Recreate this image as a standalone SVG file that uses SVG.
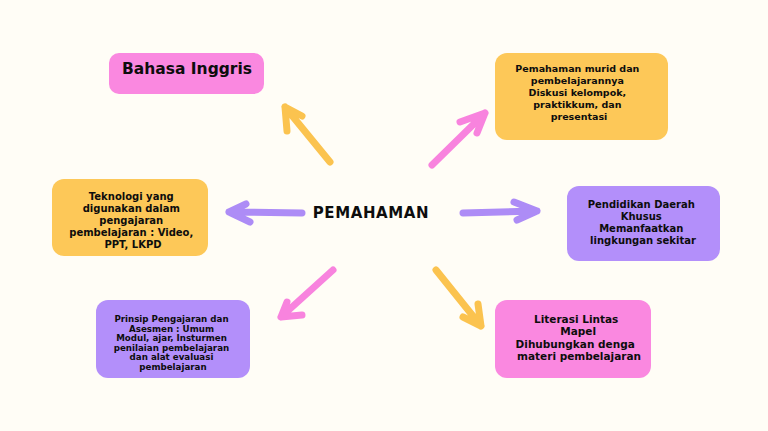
<svg xmlns="http://www.w3.org/2000/svg" width="768" height="431" viewBox="0 0 768 431">
<style>
.pink{fill:#FA88E0}
.orange{fill:#FDC858}
.purple{fill:#B38FFA}
.t{font-family:"DejaVu Sans","Liberation Sans",sans-serif;font-weight:bold;fill:#0d0d0d;text-anchor:middle}
.a{fill:none;stroke-width:7;stroke-linecap:round;stroke-linejoin:round}
.ay{stroke:#FBC34F}
.ap{stroke:#F883DE}
.av{stroke:#AD8CF6}
</style>
<rect width="768" height="431" fill="#FFFDF6"/>
<g id="connectors">
<path class="a ay" d="M330,162 L285,107 M287,131 L285,107 L302,116"/>
<path class="a ap" d="M432,165 L485,113 M460,122 L485,113 L477,133"/>
<path class="a av" d="M302,213 L229,212 M246,204 L229,212 L250,222"/>
<path class="a av" d="M463,213 L537,211 M514,202 L537,211 L517,220"/>
<path class="a ap" d="M333,270 L281,317 M287,302 L281,317 L302,315"/>
<path class="a ay" d="M436,270 L481,326 M463,317 L481,326 L478,304"/>
</g>
<g id="center">
<text class="t" x="371" y="218" font-size="15" letter-spacing="0.6">PEMAHAMAN</text>
</g>
<g id="bahasa">
<rect class="pink" x="109" y="53" width="155" height="41" rx="10"/>
<text class="t" x="122" y="74" font-size="15.5" style="text-anchor:start">Bahasa Inggris</text>
</g>
<g id="pemahaman-murid">
<rect class="orange" x="495" y="53" width="173" height="87" rx="12"/>
<text class="t" font-size="9.5" x="579">
<tspan x="579" y="72">Pemahaman murid dan</tspan>
<tspan x="579" y="84">pembelajarannya</tspan>
<tspan x="579" y="96">Diskusi kelompok,</tspan>
<tspan x="579" y="108">praktikkum, dan</tspan>
<tspan x="579" y="120">presentasi</tspan>
</text>
</g>
<g id="teknologi">
<rect class="orange" x="52" y="179" width="156" height="77" rx="12"/>
<text class="t" font-size="10" x="133">
<tspan x="133" y="200">Teknologi yang</tspan>
<tspan x="133" y="212">digunakan dalam</tspan>
<tspan x="133" y="224">pengajaran</tspan>
<tspan x="133" y="236">pembelajaran : Video,</tspan>
<tspan x="133" y="248">PPT, LKPD</tspan>
</text>
</g>
<g id="pendidikan">
<rect class="purple" x="567" y="186" width="153" height="75" rx="12"/>
<text class="t" font-size="10" x="643">
<tspan x="643" y="208">Pendidikan Daerah</tspan>
<tspan x="643" y="220">Khusus</tspan>
<tspan x="643" y="232">Memanfaatkan</tspan>
<tspan x="643" y="244">lingkungan sekitar</tspan>
</text>
</g>
<g id="prinsip">
<rect class="purple" x="96" y="300" width="154" height="78" rx="12"/>
<text class="t" font-size="8.7" x="173">
<tspan x="173" y="322">Prinsip Pengajaran dan</tspan>
<tspan x="173" y="331.5">Asesmen : Umum</tspan>
<tspan x="173" y="341">Modul, ajar, Insturmen</tspan>
<tspan x="173" y="350.5">penilaian pembelajaran</tspan>
<tspan x="173" y="360">dan alat evaluasi</tspan>
<tspan x="173" y="369.5">pembelajaran</tspan>
</text>
</g>
<g id="literasi">
<rect class="pink" x="495" y="300" width="156" height="78" rx="12"/>
<text class="t" font-size="10.5" x="578">
<tspan x="578" y="323">Literasi Lintas</tspan>
<tspan x="580" y="335">Mapel</tspan>
<tspan x="577" y="348">Dihubungkan denga</tspan>
<tspan x="579" y="360">materi pembelajaran</tspan>
</text>
</g>
</svg>
